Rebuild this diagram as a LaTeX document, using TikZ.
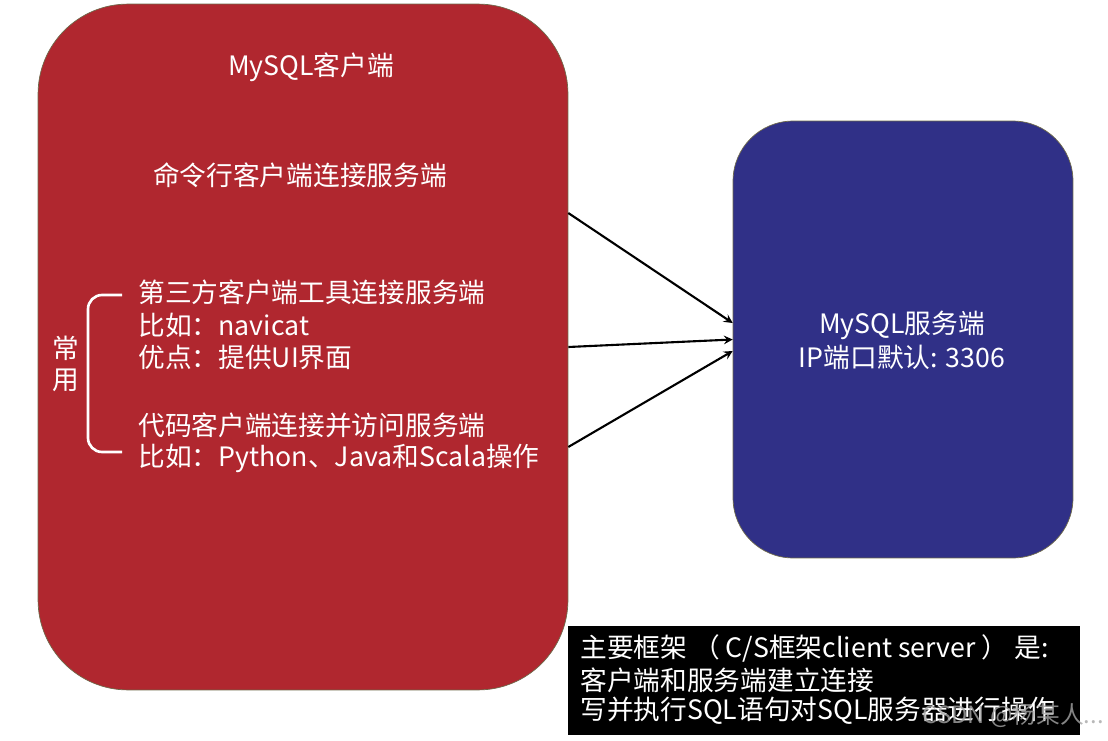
\documentclass[tikz,border=0pt]{standalone}
\usepackage{fontspec}
\setmainfont{Noto Sans CJK SC}
\usepackage{tikz}

\definecolor{clientred}{RGB}{176,39,47}
\definecolor{serverblue}{RGB}{48,48,135}
\definecolor{boxline}{RGB}{110,105,75}

\tikzset{
  txt/.style={text=white,font=\fontsize{15.2pt}{18pt}\selectfont,inner sep=0pt},
  note/.style={txt,anchor=west,align=left}
}

\begin{document}
\begin{tikzpicture}[x=0.02cm,y=-0.02cm]
        \useasboundingbox (0,0) rectangle (1108,740);
        % boxes
        \node[draw=boxline,fill=clientred,rounded corners=1.8cm,minimum width=10.6cm,minimum height=13.72cm] (client) at (303,347) {};
        \node[draw=boxline,fill=serverblue,rounded corners=1.2cm,minimum width=6.8cm,minimum height=8.74cm] (server) at (903,339.5) {};
        \node[fill=black,minimum width=10.24cm,minimum height=2.18cm] (frame) at (824,680.5) {};

        % client side
        \node[txt] (title) at (311,67) {MySQL客户端};
        \node[txt] (cmd) at (300,175) {命令行客户端连接服务端};
        \node[note] (tool) at (138,292) {第三方客户端工具连接服务端};
        \node[note] (toolex) at (138,325) {比如：navicat};
        \node[note] (toolpro) at (138,357) {优点：提供UI界面};
        \node[note] (code) at (138,425) {代码客户端连接并访问服务端};
        \node[note] (codeex) at (138,458) {比如：Python、Java和Scala操作};
        \node[txt,align=center] (common) at (66,364) {常\\用};
        \draw[white,line width=1.5pt,rounded corners=8pt] (122,295) -- (88,295) -- (88,452) -- (122,452);

        % server side
        \node[txt] (name) at (902,325) {MySQL服务端};
        \node[txt] (port) at (902,357) {IP端口默认: 3306};

        % connections
        \coordinate (c1) at ([yshift=2.68cm]client.east);
        \coordinate (c3) at ([yshift=-2cm]client.east);
        \coordinate (s1) at ([yshift=0.33cm]server.west);
        \coordinate (s3) at ([yshift=-0.23cm]server.west);
        \draw[->,>=stealth,line width=1.2pt] (c1) -- (s1);
        \draw[->,>=stealth,line width=1.2pt] (client.east) -- (server.west);
        \draw[->,>=stealth,line width=1.2pt] (c3) -- (s3);

        % bottom note
        \node[note] (frame1) at (580,648) {主要框架 （ C/S框架client server ） 是:};
        \node[note] (frame2) at (580,680) {客户端和服务端建立连接};
        \node[note] (frame3) at (580,711) {写并执行SQL语句对SQL服务器进行操作};
        \node[anchor=east,text=gray!70,opacity=0.8,font=\fontsize{13.5pt}{16pt}\selectfont,inner sep=0pt] (mark) at (1104,716) {CSDN @杨某人...};
    \end{tikzpicture}
\end{document}
